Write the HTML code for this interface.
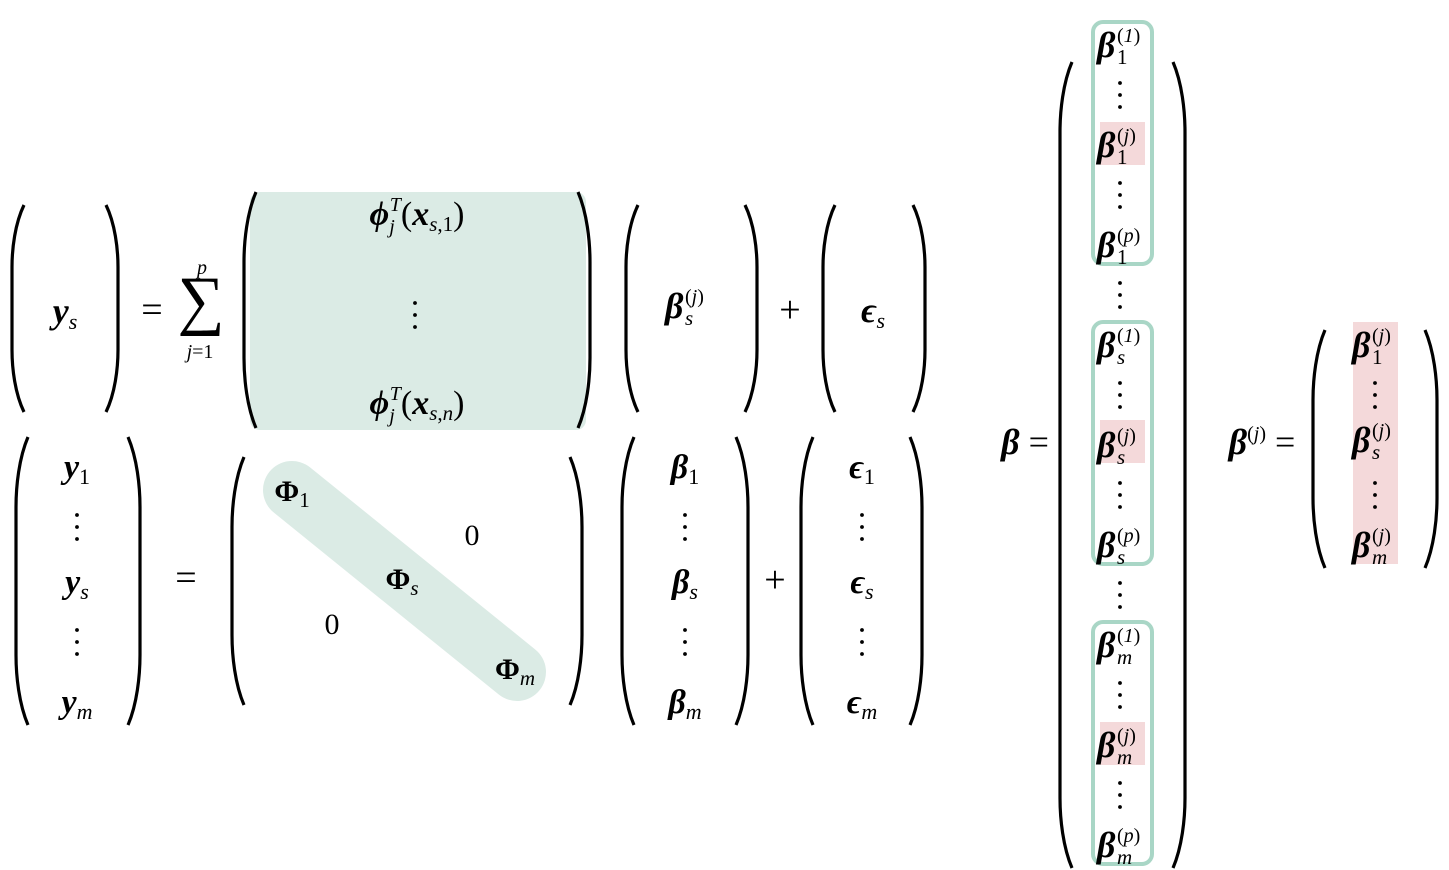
<!DOCTYPE html>
<html><head><meta charset="utf-8"><style>
html,body{margin:0;padding:0;background:#fff;}
svg{display:block;font-family:"Liberation Serif","DejaVu Serif",serif;}
.b{font-weight:bold;font-style:italic;}
.i{font-style:italic;}
</style></head><body>
<svg id="s" width="1449" height="870" viewBox="0 0 1449 870" xmlns="http://www.w3.org/2000/svg">
<rect x="250" y="192" width="336" height="238" rx="10" fill="#dbebe5"/>
<line x1="292" y1="490" x2="517" y2="672" stroke="#dbebe5" stroke-width="58" stroke-linecap="round"/>
<rect x="1100" y="122" width="45" height="43" fill="#f4d9da"/>
<rect x="1100" y="420" width="45" height="43" fill="#f4d9da"/>
<rect x="1100" y="722" width="45" height="43" fill="#f4d9da"/>
<rect x="1353" y="322" width="45" height="242" fill="#f4d9da"/>
<rect x="1093" y="22" width="59" height="242" rx="10" fill="none" stroke="#a9d6c6" stroke-width="4"/>
<rect x="1093" y="322" width="59" height="242" rx="10" fill="none" stroke="#a9d6c6" stroke-width="4"/>
<rect x="1093" y="622" width="59" height="242" rx="10" fill="none" stroke="#a9d6c6" stroke-width="4"/>
<g id="g"></g>
</svg>
<script>
var g=document.getElementById('g'),h='';
function P(l,r,y1,y2){var a=Math.min(70,(y2-y1)*0.3);
h+='<path d="M'+(l+12)+' '+y1+' C'+(l+3)+' '+(y1+a*0.3)+' '+l+' '+(y1+a*0.7)+' '+l+' '+(y1+a)+' L'+l+' '+(y2-a)+' C'+l+' '+(y2-a*0.7)+' '+(l+3)+' '+(y2-a*0.3)+' '+(l+12)+' '+y2+'" fill="none" stroke="#000" stroke-width="3.2"/>';
h+='<path d="M'+(r-12)+' '+y1+' C'+(r-3)+' '+(y1+a*0.3)+' '+r+' '+(y1+a*0.7)+' '+r+' '+(y1+a)+' L'+r+' '+(y2-a)+' C'+r+' '+(y2-a*0.7)+' '+(r-3)+' '+(y2-a*0.3)+' '+(r-12)+' '+y2+'" fill="none" stroke="#000" stroke-width="3.2"/>';}
function T(x,y,s,c,sz,a){h+='<text x="'+x+'" y="'+y+'" font-size="'+(sz||30)+'" class="'+(c||'')+'" text-anchor="'+(a||'middle')+'">'+s+'</text>';}
function V(x,y){for(var i=-1;i<=1;i++)h+='<circle cx="'+x+'" cy="'+(y+i*12)+'" r="1.9"/>';}
function Bj(x,y,sub,sup){T(x-23,y+12,'β','b',36,'start');T(x-3,y+19,sub,/[a-z]/.test(sub)?'i':'',21,'start');T(x-3,y-3,'('+'<tspan class="i">'+sup+'</tspan>)','',20,'start');}
// row1
P(12,118,205,412);T(65,323,'<tspan class="b">y</tspan><tspan class="i" font-size="22" dy="6">s</tspan>','',36);
T(152,322,'=','',38);T(201,322,'∑','',66);T(202,274,'p','i',20);T(200,358,'<tspan class="i">j</tspan>=1','',20);
P(244,590,192,428);
T(417,225,'<tspan class="b">ϕ</tspan><tspan class="i" font-size="20" dy="8">j</tspan><tspan class="i" font-size="20" dx="-5" dy="-22">T</tspan><tspan dy="14">(</tspan><tspan class="b">x</tspan><tspan font-size="21" dy="6"><tspan class="i">s</tspan>,1</tspan><tspan dy="-6">)</tspan>','',34);
V(415,315);
T(417,414,'<tspan class="b">ϕ</tspan><tspan class="i" font-size="20" dy="8">j</tspan><tspan class="i" font-size="20" dx="-5" dy="-22">T</tspan><tspan dy="14">(</tspan><tspan class="b">x</tspan><tspan font-size="21" dy="6"><tspan class="i">s</tspan>,<tspan class="i">n</tspan></tspan><tspan dy="-6">)</tspan>','',34);
P(626,757,205,412);Bj(688,306,'s','j');
T(790,322,'+','',38);P(823,925,205,412);
T(873,322,'<tspan class="b">ϵ</tspan><tspan class="i" font-size="22" dy="6">s</tspan>','',36);
// row2
P(16,140,437,725);
var ys=[467,582,702],lab=['1','s','m'];
function col(x,sym){for(var i=0;i<3;i++){T(x,ys[i]+11,'<tspan class="b">'+sym+'</tspan><tspan font-size="22" dy="6" class="'+(lab[i]=='1'?'':'i')+'">'+lab[i]+'</tspan>','',34);}V(x,527);V(x,642);}
col(77,'y');
T(186,590,'=','',38);
P(232,582,457,705);
T(292,501,'<tspan font-weight="bold">Φ</tspan><tspan font-size="21" dy="6">1</tspan>','',30);
T(472,545,'0','',30);
T(402,589,'<tspan font-weight="bold">Φ</tspan><tspan font-size="21" dy="6" class="i">s</tspan>','',30);
T(332,634,'0','',30);
T(515,679,'<tspan font-weight="bold">Φ</tspan><tspan font-size="21" dy="6" class="i">m</tspan>','',30);
P(622,748,437,725);col(685,'β');
T(775,592,'+','',38);
P(801,922,437,725);col(862,'ϵ');
// right
T(1025,454,'<tspan class="b">β</tspan> =','',36);
P(1060,1185,62,868);
[[45,'1'],[345,'s'],[645,'m']].forEach(function(b){var y=b[0],s=b[1];
Bj(1120,y,s,'1');V(1120,y+50);Bj(1120,y+100,s,'j');V(1120,y+150);Bj(1120,y+200,s,'p');});
V(1120,295);V(1120,595);
T(1262,454,'<tspan class="b">β</tspan><tspan font-size="20" dy="-14">(<tspan class="i">j</tspan>)</tspan><tspan dy="14"> =</tspan>','',36);
P(1313,1437,330,568);
Bj(1375,345,'1','j');V(1375,395);Bj(1375,440,'s','j');V(1375,495);Bj(1375,545,'m','j');
g.innerHTML=h;
</script>
</body></html>
